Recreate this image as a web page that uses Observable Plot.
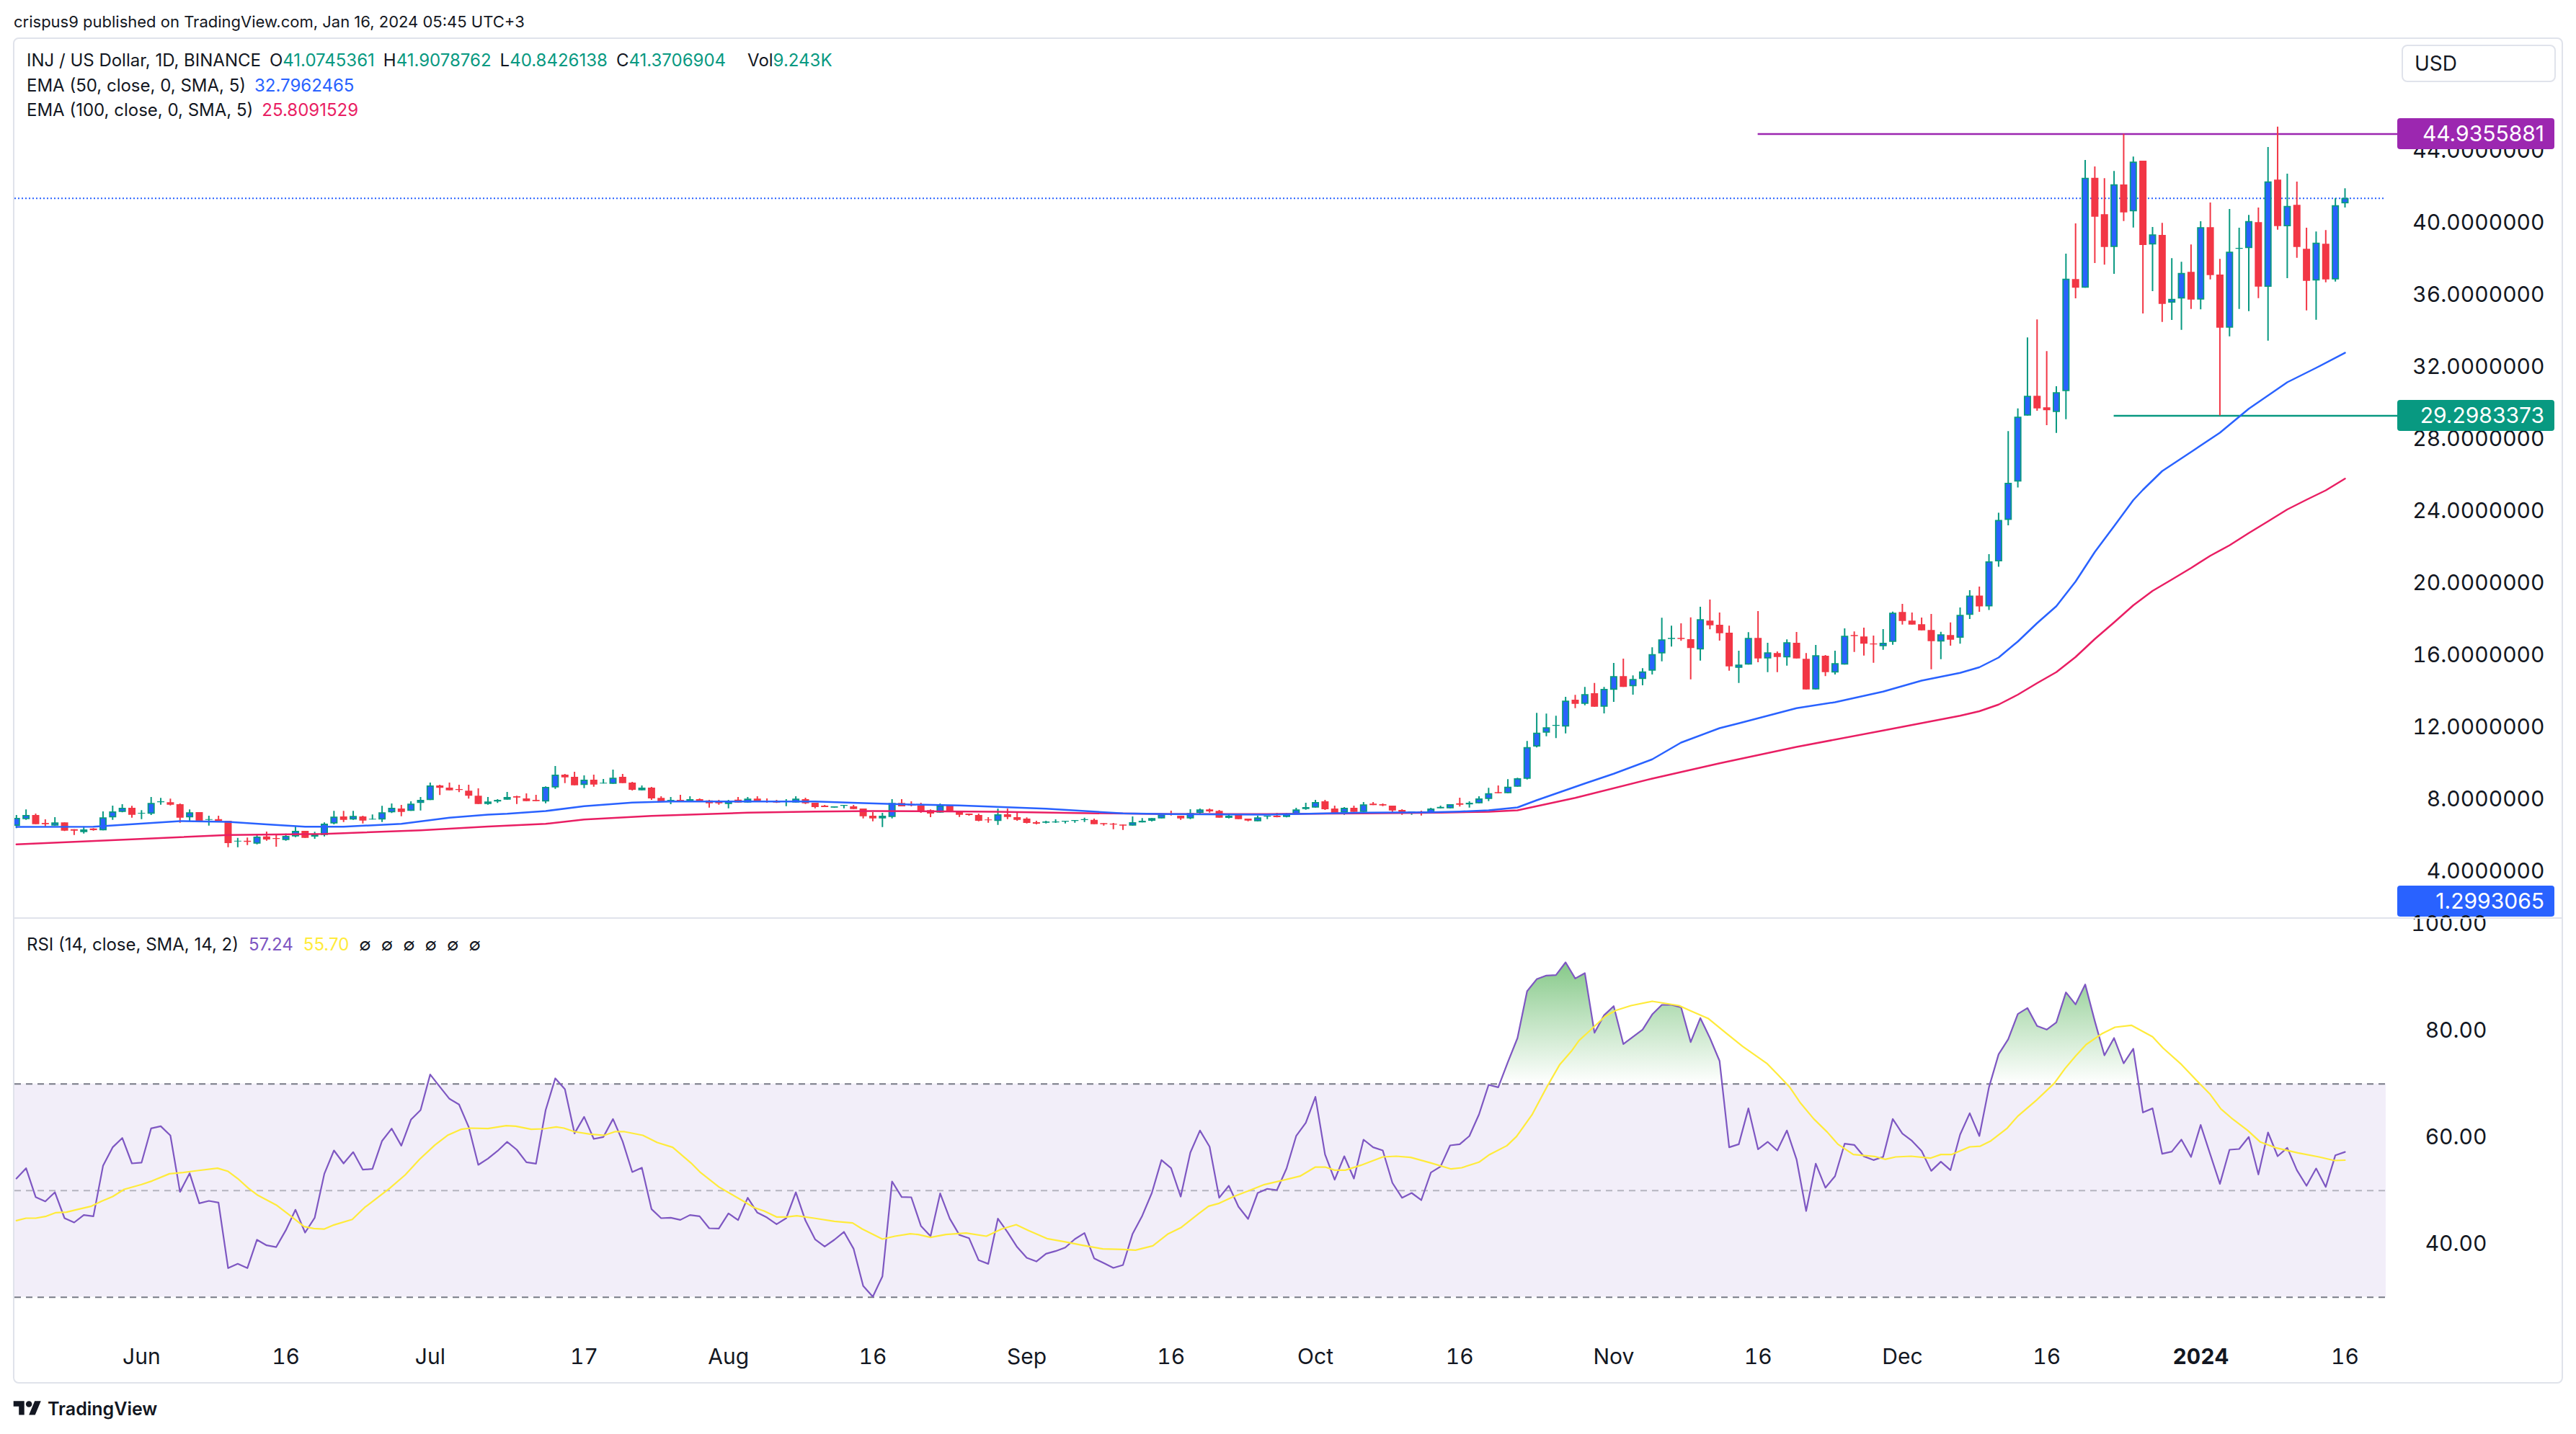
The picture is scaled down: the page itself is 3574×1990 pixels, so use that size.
<!DOCTYPE html>
<html>
<head>
<meta charset="utf-8">
<script src="https://cdn.jsdelivr.net/npm/d3@7"></script>
<script src="https://cdn.jsdelivr.net/npm/@observablehq/plot@0.6"></script>
<style>
html,body{margin:0;padding:0;background:#fff;}
body{width:3574px;height:1990px;position:relative;overflow:hidden;font-family:Inter,"Noto Sans",sans-serif;color:#131722;}
.abs{position:absolute;}
#attrib{left:19px;top:17px;font-size:22px;white-space:nowrap;}
#frame{left:18px;top:52px;width:3538px;height:1868px;border:2px solid #E0E3EB;border-radius:8px;box-sizing:border-box;}
#pricePane{left:20px;top:54px;width:3534px;height:1219px;}
#sep{left:20px;top:1273px;width:3534px;height:2px;background:#E0E3EB;}
#rsiPane{left:20px;top:1275px;width:3534px;height:643px;}
#rsiPane svg{overflow:visible;}
.row{position:absolute;left:37px;font-size:24px;line-height:34px;white-space:nowrap;z-index:3;display:flex;}
.row span{margin-right:12px;}
#usd{left:3332px;top:62px;width:214px;height:52px;border:2px solid #E0E3EB;border-radius:8px;box-sizing:border-box;font-size:28px;line-height:48px;padding-left:16px;z-index:3;background:#fff;}
#brand{left:18px;top:1940px;display:flex;align-items:center;font-size:25px;font-weight:600;color:#131722;}
#brand svg{margin-right:8px;}
</style>
</head>
<body>
<div id="attrib" class="abs">crispus9 published on TradingView.com, Jan 16, 2024 05:45 UTC+3</div>
<div id="frame" class="abs"></div>
<div id="pricePane" class="abs"></div>
<div id="rsiPane" class="abs"></div>
<div id="sep" class="abs"></div>
<div class="row" style="top:67px"><span>INJ / US Dollar, 1D, BINANCE</span><span>O<b style="font-weight:400;color:#089981">41.0745361</b></span><span>H<b style="font-weight:400;color:#089981">41.9078762</b></span><span>L<b style="font-weight:400;color:#089981">40.8426138</b></span><span style="margin-right:30px">C<b style="font-weight:400;color:#089981">41.3706904</b></span><span>Vol<b style="font-weight:400;color:#089981">9.243K</b></span></div>
<div class="row" style="top:102px"><span>EMA (50, close, 0, SMA, 5)</span><span style="color:#2962FF">32.7962465</span></div>
<div class="row" style="top:136px"><span>EMA (100, close, 0, SMA, 5)</span><span style="color:#E91E63">25.8091529</span></div>
<div class="row" style="top:1294px"><span style="margin-right:14px">RSI (14, close, SMA, 14, 2)</span><span style="margin-right:14px;color:#7E57C2">57.24</span><span style="margin-right:14px;color:#FFEB3B">55.70</span><span style="letter-spacing:14px">∅∅∅∅∅∅</span></div>
<div id="usd" class="abs">USD</div>
<div id="brand" class="abs"><svg width="40" height="30" viewBox="0 0 36 28"><path d="M14 22H7V11H0V4h14v18z M28 22h-8l7.5-18h8L28 22z" fill="#131722"/><circle cx="20" cy="8" r="4" fill="#131722"/></svg>TradingView</div>

<script>
// ---------------- DATA ----------------
const startDate = "2023-05-19"; // first daily candle

const opens = [
6.52,6.89,7.12,6.68,6.53,6.71,6.33,6.17,6.37,6.27,
6.99,7.29,7.52,7.20,7.19,7.83,7.83,7.72,6.99,7.28,
6.85,6.89,6.80,5.65,5.69,5.53,5.93,5.84,5.73,5.93,
6.24,5.92,6.01,6.65,7.04,6.87,7.04,6.87,6.87,7.27,
7.48,7.35,7.79,7.95,8.76,8.64,8.56,8.47,8.19,7.73,
7.87,7.97,8.16,8.04,7.96,7.87,8.65,9.36,9.24,8.79,
9.08,8.87,8.85,9.24,8.92,8.49,8.64,8.07,7.92,7.96,
7.88,8.00,7.93,7.85,7.73,7.97,7.81,8.03,7.92,7.88,
7.84,7.81,8.00,7.80,7.64,7.53,7.63,7.60,7.48,7.08,
6.93,7.01,7.79,7.73,7.64,7.39,7.25,7.64,7.35,7.20,
7.12,6.87,6.79,7.16,7.00,6.92,6.72,6.69,6.71,6.75,
6.79,6.84,6.85,6.67,6.64,6.59,6.53,6.71,6.80,6.93,
7.19,7.08,6.93,7.24,7.43,7.35,6.96,7.12,6.92,6.77,
7.03,7.08,7.01,7.16,7.45,7.53,7.88,7.48,7.25,7.52,
7.29,7.75,7.72,7.64,7.40,7.27,7.32,7.24,7.49,7.49,
7.77,7.71,7.77,8.01,8.39,8.33,8.69,9.13,10.92,11.69,
12.07,12.03,13.52,13.29,13.88,13.13,14.07,14.83,14.27,14.67,
15.13,16.09,16.89,16.95,16.88,16.31,17.91,17.68,17.24,15.29,
15.47,16.95,15.81,16.11,15.87,16.68,15.79,14.09,15.96,15.03,
15.47,17.11,17.03,16.64,16.49,16.73,18.39,17.91,17.71,17.39,
16.75,17.11,16.96,18.23,19.30,18.70,21.20,23.50,25.63,29.29,
30.39,29.75,29.49,30.65,36.87,36.39,42.49,40.47,38.65,42.12,
40.63,43.44,38.79,39.32,35.56,35.79,37.27,35.73,39.75,37.12,
34.17,38.55,38.59,40.03,36.44,42.39,39.80,40.99,38.55,36.79,
38.83,36.85,41.0745361];

const highs = [
7.12,7.43,7.20,6.88,7.00,6.71,6.33,6.49,6.39,7.32,
7.64,7.72,7.63,7.39,8.12,8.07,8.03,7.76,7.43,7.28,
7.08,7.08,6.80,5.85,5.87,6.08,6.20,6.03,6.09,6.52,
6.24,6.19,6.71,7.35,7.35,7.35,7.08,7.15,7.63,7.76,
7.68,7.88,8.12,8.92,8.80,8.92,8.80,8.80,8.60,8.12,
8.00,8.40,8.19,8.32,8.24,8.71,9.84,9.40,9.52,9.32,
9.36,9.12,9.64,9.40,8.96,8.76,8.68,8.16,8.12,8.24,
8.16,8.04,7.96,7.96,7.96,8.12,8.12,8.16,8.04,7.96,
8.00,8.16,8.08,7.80,7.68,7.60,7.68,7.68,7.48,7.28,
7.24,8.00,8.00,7.88,7.80,7.43,7.76,7.64,7.35,7.20,
7.20,7.00,7.48,7.48,7.24,6.99,6.80,6.80,6.88,6.80,
6.84,6.97,6.92,6.67,6.68,6.59,7.04,6.95,6.95,7.17,
7.36,7.08,7.44,7.48,7.48,7.40,7.12,7.16,6.92,7.08,
7.08,7.24,7.23,7.52,7.80,7.96,7.96,7.64,7.56,7.64,
7.84,7.84,7.76,7.64,7.44,7.32,7.36,7.52,7.64,7.72,
8.08,7.88,8.16,8.63,8.76,9.11,9.19,11.23,12.79,12.75,
12.63,13.68,13.79,14.23,14.45,14.23,15.56,15.80,14.87,15.27,
16.43,18.07,17.63,17.76,18.09,18.68,19.08,18.36,17.63,16.24,
17.27,18.44,16.68,16.20,16.87,17.28,16.11,16.56,16.00,16.24,
17.48,17.31,17.52,17.08,17.44,18.41,18.84,18.36,18.08,18.28,
17.29,17.81,18.64,19.60,19.80,21.60,23.90,28.43,29.69,33.63,
34.63,32.87,30.92,38.28,39.96,43.48,43.12,42.47,42.87,44.9355881,
43.67,43.44,39.76,39.99,38.03,37.83,38.79,40.08,41.12,37.99,
40.76,39.72,40.43,40.84,44.20,45.33,42.72,42.28,39.72,39.51,
39.59,41.36,41.9078762];

const lows = [
6.39,6.85,6.61,6.49,6.53,6.23,6.01,6.09,6.25,6.27,
6.85,7.27,6.97,6.89,7.12,7.69,7.65,6.69,6.80,6.73,
6.53,6.73,5.33,5.33,5.45,5.49,5.69,5.36,5.69,5.89,
5.85,5.80,5.93,6.60,6.73,6.85,6.65,6.87,6.73,7.23,
7.05,7.35,7.37,7.95,8.23,8.49,8.39,8.03,7.73,7.69,
7.79,7.97,7.73,7.89,7.89,7.77,8.57,8.89,8.77,8.61,
8.69,8.87,8.85,8.89,8.48,8.49,7.96,7.88,7.72,7.89,
7.88,7.88,7.53,7.69,7.49,7.81,7.81,7.88,7.80,7.79,
7.61,7.81,7.73,7.49,7.56,7.53,7.49,7.45,6.93,6.77,
6.45,6.93,7.60,7.60,7.24,7.00,7.25,7.29,7.01,7.08,
6.77,6.69,6.57,6.89,6.80,6.65,6.60,6.65,6.68,6.65,
6.69,6.73,6.61,6.53,6.33,6.29,6.53,6.71,6.76,6.93,
7.09,6.85,6.89,7.20,7.25,6.97,6.93,6.89,6.77,6.77,
6.89,6.99,6.99,7.16,7.41,7.53,7.40,7.24,7.13,7.29,
7.29,7.67,7.61,7.21,7.13,7.13,7.09,7.24,7.49,7.49,
7.59,7.53,7.77,7.89,8.33,8.33,8.69,9.09,10.87,11.49,
11.39,11.65,13.05,13.21,13.13,12.76,13.40,14.23,13.80,14.32,
14.92,15.65,16.47,16.79,14.65,15.69,17.43,16.80,15.13,14.45,
15.47,15.60,15.05,15.05,15.41,15.81,14.09,14.09,14.83,14.92,
15.47,16.17,15.97,15.57,16.29,16.57,17.69,17.69,17.37,15.21,
15.77,16.52,16.63,18.00,18.40,18.50,20.90,23.20,25.30,29.29,
29.56,28.76,28.33,29.09,35.80,36.39,37.76,37.67,37.16,40.09,
39.73,34.96,36.20,34.49,34.60,34.05,35.21,35.19,36.85,29.2983373,
33.69,35.21,35.09,35.81,33.45,39.61,36.92,38.05,35.13,34.61,
36.69,36.73,40.8426138];

const closes = [
6.96,7.12,6.61,6.61,6.71,6.25,6.25,6.32,6.28,6.99,
7.32,7.52,7.13,7.24,7.79,7.88,7.69,6.97,7.27,6.79,
6.89,6.80,5.56,5.69,5.63,5.92,5.76,5.79,5.96,6.24,
5.85,6.04,6.64,7.03,6.85,7.07,6.81,6.91,7.27,7.52,
7.29,7.75,7.96,8.76,8.63,8.49,8.51,8.19,7.73,7.87,
7.96,8.12,8.09,7.89,7.89,8.68,9.36,9.21,8.77,9.08,
8.81,8.91,9.19,8.89,8.52,8.64,8.04,7.88,7.96,7.89,
8.00,7.92,7.77,7.77,7.92,7.81,8.03,7.88,7.88,7.81,
7.88,8.03,7.77,7.56,7.56,7.60,7.68,7.45,7.05,6.93,
7.08,7.79,7.60,7.65,7.36,7.20,7.64,7.29,7.13,7.12,
6.80,6.83,7.16,7.01,6.85,6.68,6.64,6.76,6.76,6.80,
6.84,6.89,6.61,6.61,6.59,6.53,6.72,6.80,6.95,7.17,
7.13,6.93,7.23,7.43,7.32,6.97,7.08,6.89,6.81,6.99,
7.08,7.00,7.19,7.43,7.56,7.84,7.44,7.24,7.52,7.29,
7.71,7.67,7.65,7.37,7.21,7.32,7.27,7.48,7.57,7.72,
7.69,7.80,8.04,8.33,8.33,8.69,9.16,10.89,11.69,11.99,
12.12,13.47,13.29,13.83,13.13,14.12,14.83,14.23,14.67,15.09,
16.05,16.87,16.95,16.89,16.39,17.99,17.65,17.21,15.37,15.47,
16.95,15.81,16.15,15.89,16.71,15.81,14.09,15.99,15.05,15.55,
17.07,17.05,16.63,16.59,16.68,18.35,17.89,17.69,17.37,16.77,
17.15,16.85,18.23,19.30,18.70,21.20,23.50,25.56,29.23,30.39,
29.69,29.59,30.59,36.89,36.39,42.49,40.33,38.65,42.13,40.57,
43.39,38.76,39.35,35.49,35.77,37.21,35.73,39.75,37.09,34.17,
38.39,38.60,40.09,36.45,42.29,39.81,40.93,38.65,36.77,38.89,
36.85,40.97,41.3706904];

// EMA lines, read at sample days (day index from startDate)
const ema50Day   = [0,8,17,22,26,30,34,40,45,49,51,55,59,64,68,76,83,88,93,98,102,107,115,120,130,140,147,150,153,156,158,163,166,170,173,177,179,185,189,194,198,202,204,206,208,210,212,214,216,218,220,221,223,226,229,232,236,239,242];
const ema50Value = [6.48,6.49,6.80,6.76,6.62,6.49,6.49,6.65,6.99,7.16,7.21,7.36,7.63,7.83,7.89,7.89,7.89,7.80,7.72,7.67,7.59,7.49,7.23,7.19,7.16,7.27,7.29,7.33,7.40,7.56,7.96,8.89,9.43,10.23,11.16,11.96,12.23,13.07,13.40,13.99,14.60,15.03,15.34,15.88,16.77,17.79,18.73,20.10,21.74,23.17,24.62,25.19,26.23,27.29,28.36,29.69,31.16,31.96,32.7962465];
const ema100Day   = [0,12,22,32,42,49,55,59,66,76,83,89,102,110,120,130,140,148,153,156,162,170,177,185,194,202,204,206,208,210,212,214,216,218,220,222,224,226,228,230,232,234,236,238,240,242];
const ema100Value = [5.51,5.79,6.03,6.09,6.29,6.50,6.65,6.89,7.09,7.27,7.33,7.36,7.32,7.25,7.19,7.19,7.23,7.27,7.32,7.40,8.09,9.16,10.01,10.92,11.83,12.65,12.90,13.27,13.82,14.46,15.07,15.91,16.91,17.83,18.78,19.58,20.21,20.85,21.53,22.11,22.79,23.44,24.10,24.64,25.16,25.8091529];

// RSI (14) daily values
const rsiValues = [
52.25,54.19,48.78,47.97,49.68,44.82,44.01,45.41,45.18,54.64,
58.11,59.86,55.09,55.23,61.67,62.07,60.32,49.77,53.24,47.61,
48.06,47.75,35.45,36.26,35.45,40.77,39.73,39.41,42.57,46.40,
42.12,44.91,53.15,57.52,55.09,57.21,53.92,54.05,59.32,61.62,
58.42,63.29,65.09,71.76,69.46,67.21,66.13,61.94,54.82,55.99,
57.43,59.14,57.66,55.32,55.05,65.09,71.04,69.01,60.72,63.83,
59.68,60.05,63.42,59.23,53.47,54.28,46.53,44.82,44.91,44.50,
45.41,45.18,42.93,42.88,45.72,44.46,48.65,45.86,44.95,43.69,
44.82,49.68,44.37,40.86,39.50,40.77,42.25,39.10,32.12,30.09,
33.92,51.71,48.78,48.74,43.38,41.44,49.46,44.73,41.67,41.08,
36.94,36.26,44.73,42.21,39.41,37.39,36.71,38.15,38.65,39.32,
40.90,42.03,37.30,36.40,35.50,36.04,41.89,45.27,49.55,55.72,
54.19,48.87,57.12,61.26,58.24,48.65,50.90,46.98,44.68,49.55,
50.32,50.09,54.14,60.23,62.70,67.57,56.76,52.03,56.44,52.25,
59.55,58.11,57.52,51.44,48.65,49.55,48.20,53.38,54.50,58.47,
58.69,60.23,64.28,69.82,69.37,74.10,78.60,87.39,89.64,90.32,
90.41,92.79,89.77,90.77,79.59,82.88,84.59,77.48,78.83,80.18,
83.02,84.82,84.82,84.37,77.84,82.34,78.60,74.32,58.11,58.69,
65.41,57.75,59.14,57.52,61.26,55.86,46.17,55.05,50.54,52.70,
58.78,58.56,56.40,55.72,56.31,63.42,60.68,59.32,57.43,53.69,
55.41,53.83,60.50,64.50,60.23,69.37,75.54,78.38,83.11,84.23,
80.86,80.18,81.53,87.16,84.91,88.65,81.76,75.36,78.60,73.87,
76.58,64.64,65.41,56.89,57.30,59.55,56.31,62.30,56.76,51.26,
57.66,57.79,60.05,53.02,60.90,56.44,58.02,53.83,50.90,54.14,
50.68,56.62,57.24];

// RSI-based moving average, read at sample days
const rsiMaDay = [0,1,2,3.1,4.1,5.2,6.2,7.8,8.8,10,11.2,13,14.1,15.9,17.3,18.8,20.9,22,23,24.1,25.1,27,28.3,29.9,30.9,32,33,34.9,36.2,37.2,38.8,40.4,41.9,43.5,44.8,46.2,47.2,49,50.9,51.9,53.5,54.8,56.1,56.9,58,59.6,61.1,62.2,63.2,65.1,66.6,68.2,70.1,71.1,73,74.3,75.6,76.6,77.7,79,80,81.1,82.9,85,86.9,87.9,90,91.3,92.9,93.7,95,96.6,98.7,100.8,102.4,103.9,105.2,107.1,108.9,110.8,112.9,115,116.3,118.1,119.7,121,122.9,123.9,125,126.5,128.1,129.7,131.3,133.4,135,136,137,138.1,139.7,142,143.4,144.9,147,149.1,150.2,152,153.1,154.9,155.9,157.5,159.1,160.4,161.6,162.4,163.5,165.1,166.2,167.8,170,172.8,173.9,175.8,177.7,179.4,181.9,183,184.3,185.4,186.8,188.2,189.3,190.9,193.1,194.2,195.3,196.9,198.9,200,201.1,203,204.1,205.2,206.9,208,209.9,211.8,212.9,214,215.1,216.7,218.1,219.8,222,223.1,225,226.9,228,229.1,230.2,231.9,233.2,234.9,237.1,239.3,240.9,242];
const rsiMaValue = [44.37,44.82,44.82,45.18,45.86,45.95,46.40,47.07,47.97,48.87,50.23,51.13,51.80,53.15,53.38,53.74,54.19,53.60,52.25,50.45,49.10,47.30,45.50,43.24,42.88,42.79,43.56,44.59,46.85,48.20,50.45,52.93,55.86,58.56,60.36,61.49,61.71,61.62,62.16,62.07,61.49,61.58,61.94,61.71,61.04,60.59,60.36,61.04,61.04,60.36,59.01,58.11,55.18,53.38,50.68,49.32,47.97,46.85,46.17,45.05,45.05,45.27,44.82,44.23,43.92,42.79,40.90,41.44,41.89,41.76,41.22,41.76,42.03,41.44,42.79,43.60,42.48,40.99,40.41,39.73,39.05,38.96,38.83,39.64,41.89,43.02,45.72,47.07,47.61,48.87,50.00,51.13,51.80,52.70,54.41,54.41,53.83,53.83,54.73,56.31,56.44,56.22,55.18,54.05,54.28,55.32,56.76,58.42,60.14,64.19,69.59,73.65,76.13,78.15,79.95,82.66,83.78,84.68,85.50,84.68,83.78,82.30,79.50,77.03,73.87,71.85,69.37,66.44,63.42,60.95,58.69,56.76,56.40,55.86,56.31,56.44,56.08,56.76,56.76,58.20,58.33,59.32,61.71,63.96,66.89,70.14,72.88,75.23,77.39,79.37,80.63,80.99,78.83,76.71,73.65,70.05,68.02,65.32,63.60,61.26,59.10,57.97,57.07,56.31,55.63,55.70];

// Horizontal drawings and axis tags
const resistanceLevel = 44.9355881, resistanceFrom = "2023-11-16";
const supportLevel = 29.2983373, supportFrom = "2023-12-23";
const drawingsTo = "2024-01-22";
const bottomTag = 1.2993065;

// Axis ticks
const priceTicks = [4, 8, 12, 16, 20, 24, 28, 32, 36, 40, 44];
const rsiTicks = [40, 60, 80, 100];
const timeTicks = ["2023-06-01","2023-06-16","2023-07-01","2023-07-17","2023-08-01","2023-08-16","2023-09-01","2023-09-16","2023-10-01","2023-10-16","2023-11-01","2023-11-16","2023-12-01","2023-12-16","2024-01-01","2024-01-16"];
const timeLabels = ["Jun","16","Jul","17","Aug","16","Sep","16","Oct","16","Nov","16","Dec","16","2024","16"];

// ---------------- BUILD ----------------
const BLUE = "#2962FF", TEAL = "#089981", RED = "#F23645", PINK = "#E91E63",
      PURPLE = "#9C27B0", RSI_C = "#7E57C2", YEL = "#FFEB3B", GRAY = "#787B86";
const DAY = 864e5;
const t0 = Date.parse(startDate);
const dayToDate = d => new Date(t0 + d * DAY);

const candles = opens.map((o, i) => ({date: dayToDate(i), open: o, high: highs[i], low: lows[i], close: closes[i]}));
const up = candles.filter(d => d.close >= d.open);
const down = candles.filter(d => d.close < d.open);
const ema50 = ema50Day.map((d, i) => ({date: dayToDate(d), v: ema50Value[i]}));
const ema100 = ema100Day.map((d, i) => ({date: dayToDate(d), v: ema100Value[i]}));
const rsiData = rsiValues.map((v, i) => ({date: dayToDate(i), v}));
const rsiMa = rsiMaDay.map((d, i) => ({date: dayToDate(d), v: rsiMaValue[i]}));
const levels = [
  {y: resistanceLevel, x1: new Date(resistanceFrom), x2: new Date(drawingsTo), c: PURPLE},
  {y: supportLevel, x1: new Date(supportFrom), x2: new Date(drawingsTo), c: TEAL}
];

const W = 3534, PLOT_R = 244;
const xDomain = [dayToDate(-0.172), dayToDate(246.27)];
const FONT = "Inter, 'Noto Sans', sans-serif";

const price = Plot.plot({
  width: W, height: 1219,
  marginLeft: 0, marginRight: PLOT_R, marginTop: 0, marginBottom: 0,
  style: {fontFamily: FONT, color: "#131722", background: "transparent"},
  x: {type: "utc", domain: xDomain, axis: null},
  y: {domain: [1.44, 50.2], axis: null},
  marks: [
    Plot.axisY(priceTicks, {anchor: "right", tickSize: 0, tickPadding: 220, textAnchor: "end",
      tickFormat: d => d.toFixed(7), fontSize: 30, fill: "#131722"}),
    Plot.ruleY([closes[closes.length - 1]], {stroke: BLUE, strokeWidth: 2, strokeDasharray: "2,3"}),
    Plot.ruleY(levels.filter(d => d.c === PURPLE), {y: "y", x1: "x1", x2: "x2", stroke: PURPLE, strokeWidth: 2.5}),
    Plot.ruleY(levels.filter(d => d.c === TEAL), {y: "y", x1: "x1", x2: "x2", stroke: TEAL, strokeWidth: 2.5}),
    // wicks
    Plot.ruleX(up, {x: "date", y1: "low", y2: "high", stroke: TEAL, strokeWidth: 2}),
    Plot.ruleX(down, {x: "date", y1: "low", y2: "high", stroke: RED, strokeWidth: 2}),
    // bodies
    Plot.ruleX(up, {x: "date", y1: "close", y2: "open", stroke: TEAL, strokeWidth: 10}),
    Plot.ruleX(up.filter(d => d.close - d.open > 0.16), {x: "date", y1: "close", y2: "open", stroke: BLUE, strokeWidth: 6.4, insetTop: 1.8, insetBottom: 1.8}),
    Plot.ruleX(down, {x: "date", y1: "open", y2: "close", stroke: RED, strokeWidth: 10}),
    // EMAs
    Plot.line(ema100, {x: "date", y: "v", stroke: PINK, strokeWidth: 2.5}),
    Plot.line(ema50, {x: "date", y: "v", stroke: BLUE, strokeWidth: 2.5})
  ]
});
document.getElementById("pricePane").appendChild(price);

// price tags on the axis, placed with the plot's own y scale
(function () {
  const ys = price.scale("y");
  const svg = d3.select(price);
  const boxX = 3306, boxW = 218, boxH = 43, paneH = 1219;
  const tags = [
    {v: resistanceLevel, c: PURPLE, t: resistanceLevel.toFixed(7)},
    {v: supportLevel, c: TEAL, t: supportLevel.toFixed(7)},
    {v: bottomTag, c: BLUE, t: bottomTag.toFixed(7)}
  ];
  for (const tg of tags) {
    const y = Math.min(ys.apply(tg.v), paneH - boxH / 2 - 1);
    svg.append("rect").attr("x", boxX).attr("y", y - boxH / 2).attr("width", boxW).attr("height", boxH)
      .attr("rx", 4).attr("fill", tg.c);
    svg.append("text").attr("x", 3510).attr("y", y).attr("dy", "0.36em").attr("text-anchor", "end")
      .attr("fill", "#fff").attr("font-size", 30).attr("font-family", FONT).text(tg.t);
  }
})();

const tickDates = timeTicks.map(s => new Date(s));
const labelOf = new Map(tickDates.map((d, i) => [+d, timeLabels[i]]));
const isYear = s => /^\d{4}$/.test(s);

const rsi = Plot.plot({
  width: W, height: 643,
  marginLeft: 0, marginRight: PLOT_R, marginTop: 0, marginBottom: 68,
  style: {fontFamily: FONT, color: "#131722", background: "transparent"},
  x: {type: "utc", domain: xDomain, axis: null},
  y: {domain: [23.2, 100.9], axis: null},
  marks: [
    Plot.rect([{x1: xDomain[0], x2: xDomain[1], y1: 30, y2: 70}], {x1: "x1", x2: "x2", y1: "y1", y2: "y2", fill: RSI_C, fillOpacity: 0.1}),
    Plot.areaY(rsiData, {x: "date", y1: 70, y2: "v", fill: "url(#obGrad)"}),
    Plot.ruleY([70, 30], {stroke: GRAY, strokeWidth: 2, strokeDasharray: "9,7"}),
    Plot.ruleY([50], {stroke: GRAY, strokeOpacity: 0.5, strokeWidth: 2, strokeDasharray: "9,7"}),
    Plot.line(rsiData, {x: "date", y: "v", stroke: RSI_C, strokeWidth: 2.2}),
    Plot.line(rsiMa, {x: "date", y: "v", stroke: YEL, strokeWidth: 2.2}),
    Plot.axisY(rsiTicks, {anchor: "right", tickSize: 0, tickPadding: 140, textAnchor: "end",
      tickFormat: d => d.toFixed(2), fontSize: 30, fill: "#131722"}),
    Plot.axisX(tickDates.filter(d => !isYear(labelOf.get(+d))), {anchor: "bottom", tickSize: 0, tickPadding: 21,
      tickFormat: d => labelOf.get(+d), fontSize: 30, fill: "#131722"}),
    Plot.axisX(tickDates.filter(d => isYear(labelOf.get(+d))), {anchor: "bottom", tickSize: 0, tickPadding: 21,
      tickFormat: d => labelOf.get(+d), fontSize: 30, fontWeight: "bold", fill: "#131722"})
  ]
});
document.getElementById("rsiPane").appendChild(rsi);

(function () {
  const ry = rsi.scale("y");
  const svg = d3.select(rsi);
  const defs = svg.insert("defs", ":first-child");
  const g = defs.append("linearGradient").attr("id", "obGrad").attr("gradientUnits", "userSpaceOnUse")
    .attr("x1", 0).attr("x2", 0).attr("y1", ry.apply(100)).attr("y2", ry.apply(70));
  g.append("stop").attr("offset", 0).attr("stop-color", "#4CAF50").attr("stop-opacity", 0.9);
  g.append("stop").attr("offset", 0.6).attr("stop-color", "#4CAF50").attr("stop-opacity", 0.35);
  g.append("stop").attr("offset", 1).attr("stop-color", "#4CAF50").attr("stop-opacity", 0.0);
  defs.append("clipPath").attr("id", "obClip").append("rect")
    .attr("x", 0).attr("y", 0).attr("width", W - PLOT_R).attr("height", ry.apply(70));
  svg.selectAll('g[aria-label="area"]').attr("clip-path", "url(#obClip)");
})();
</script>
</body>
</html>
